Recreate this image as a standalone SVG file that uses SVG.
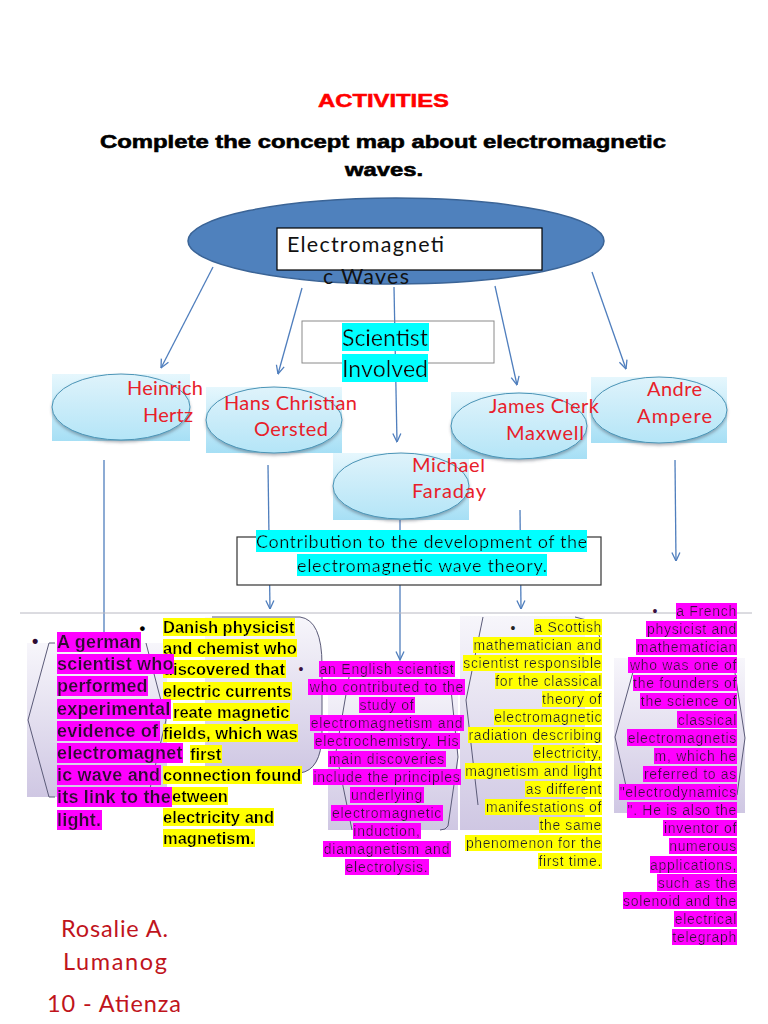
<svg xmlns="http://www.w3.org/2000/svg" width="768" height="1024" viewBox="0 0 768 1024">
<defs>
<style>
.cal{font-family:Lato,"Open Sans","Noto Sans",sans-serif}
.ar{font-family:"Liberation Sans",Arial,sans-serif}
.nm{font-size:20px;fill:#e8202a}
.conn{stroke:#4f7ebd;stroke-width:1.3;fill:none}
.arr{marker-end:url(#ah)}
.nrect{fill:url(#gBlue)}
.nell{fill:url(#gBlue2);stroke:#4a94b6;stroke-width:1;filter:url(#sh)}
.lav{fill:url(#gLav)}
.brace{fill:none;stroke:#5b5b78;stroke-width:1}
.hz text{font-size:18px;font-weight:bold;fill:#2e0a33;letter-spacing:0.2px;filter:url(#hlP)}
.oe text{font-size:16.5px;font-weight:bold;fill:#000;filter:url(#hlY)}
.fa text{font-size:14px;fill:#3a1040;letter-spacing:0.75px;text-anchor:middle;filter:url(#hlP)}
.mx text{font-size:14px;fill:#222;letter-spacing:0.6px;text-anchor:end;filter:url(#hlY)}
.am text{font-size:14px;fill:#3a1040;letter-spacing:0.7px;text-anchor:end;filter:url(#hlP)}
.bul{font-size:14px;fill:#000;filter:none !important}
.cy{filter:url(#hlC)}
</style>
<marker id="ah" viewBox="0 0 10 10" refX="9.5" refY="5" markerWidth="10" markerHeight="10" orient="auto" markerUnits="userSpaceOnUse">
<path d="M1,1 L9.5,5 L1,9" fill="none" stroke="#4f7ebd" stroke-width="1.3"/>
</marker>
<linearGradient id="gBlue" x1="0" y1="0" x2="0" y2="1"><stop offset="0" stop-color="#e6f7fd"/><stop offset="1" stop-color="#a6dff5"/></linearGradient>
<linearGradient id="gBlue2" x1="0" y1="0" x2="0" y2="1"><stop offset="0" stop-color="#dff3fb"/><stop offset="1" stop-color="#b4e5f7"/></linearGradient>
<linearGradient id="gLav" x1="0" y1="0" x2="0" y2="1"><stop offset="0" stop-color="#f7f6fb"/><stop offset="1" stop-color="#cfc7e3"/></linearGradient>
<filter id="hlP" x="0" y="0" width="1" height="1"><feFlood flood-color="#ff00ff" result="bg"/><feMerge><feMergeNode in="bg"/><feMergeNode in="SourceGraphic"/></feMerge></filter>
<filter id="hlY" x="0" y="0" width="1" height="1"><feFlood flood-color="#ffff00" result="bg"/><feMerge><feMergeNode in="bg"/><feMergeNode in="SourceGraphic"/></feMerge></filter>
<filter id="hlC" x="0" y="0" width="1" height="1"><feFlood flood-color="#00ffff" result="bg"/><feMerge><feMergeNode in="bg"/><feMergeNode in="SourceGraphic"/></feMerge></filter>
<filter id="sh" x="-10%" y="-10%" width="120%" height="135%"><feDropShadow dx="0" dy="2" stdDeviation="1.5" flood-color="#4a5560" flood-opacity="0.45"/></filter>
</defs>
<rect width="768" height="1024" fill="#fff"/>

<g id="title" class="ar">
<text x="318" y="107" font-size="18" font-weight="bold" fill="#ff0000" stroke="#ff0000" stroke-width="0.5" textLength="131" lengthAdjust="spacingAndGlyphs">ACTIVITIES</text>
<text x="100" y="148" font-size="19" font-weight="bold" fill="#000" stroke="#000" stroke-width="0.6" textLength="566" lengthAdjust="spacingAndGlyphs">Complete the concept map about electromagnetic</text>
<text x="345" y="176" font-size="19" font-weight="bold" fill="#000" stroke="#000" stroke-width="0.6" textLength="78" lengthAdjust="spacingAndGlyphs">waves.</text>
</g>

<g id="node-em-waves">
<ellipse cx="396" cy="241" rx="208" ry="43" fill="#4f81bd" stroke="#3b6496" stroke-width="1.5"/>
<rect x="277" y="228" width="265" height="42" fill="#fff" stroke="#000" stroke-width="1.2"/>
<text class="cal" x="287" y="252" font-size="21.5" fill="#111" textLength="157">Electromagneti</text>
<text class="cal" x="323" y="284" font-size="21.5" fill="#111" textLength="86">c Waves</text>
</g>

<g id="connectors">
<path class="conn arr" d="M213,267 L161,368"/>
<path class="conn arr" d="M302,288 L278,374"/>
<path class="conn arr" d="M394,287 L397,442"/>
<path class="conn arr" d="M495,286 L517,385"/>
<path class="conn arr" d="M592,272 L626,369"/>
<path class="conn" d="M104,460 L104,632"/>
<path class="conn arr" d="M268,465 L270,609"/>
<path class="conn arr" d="M400,520 L400,660"/>
<path class="conn arr" d="M520,510 L521,609"/>
<path class="conn arr" d="M675,460 L676,561"/>
</g>

<g id="node-scientists">
<rect x="302" y="321" width="192" height="42" fill="none" stroke="#8a8a8a" stroke-width="1"/>
<text class="cal cy" x="342" y="346" font-size="23" fill="#111" textLength="86">Scientist</text>
<text class="cal cy" x="342" y="377" font-size="23" fill="#111" textLength="86">Involved</text>
</g>

<g id="node-hertz">
<rect class="nrect" x="52" y="374" width="138" height="67"/>
<ellipse class="nell" cx="121" cy="407" rx="69" ry="33"/>
<text class="cal nm" x="127" y="395" textLength="76">Heinrich</text>
<text class="cal nm" x="143" y="422" textLength="50">Hertz</text>
</g>

<g id="node-oersted">
<rect class="nrect" x="206" y="387" width="136" height="66"/>
<ellipse class="nell" cx="274" cy="420" rx="68" ry="33"/>
<text class="cal nm" x="224" y="410" textLength="133">Hans Christian</text>
<text class="cal nm" x="254" y="436" textLength="74">Oersted</text>
</g>

<g id="node-faraday">
<rect class="nrect" x="333" y="453" width="136" height="67"/>
<ellipse class="nell" cx="401" cy="486" rx="68" ry="33"/>
<text class="cal nm" x="412" y="472" textLength="73">Michael</text>
<text class="cal nm" x="412" y="498" textLength="74">Faraday</text>
</g>

<g id="node-ampere">
<rect class="nrect" x="591" y="377" width="136" height="66"/>
<ellipse class="nell" cx="659" cy="410" rx="68" ry="33"/>
<text class="cal nm" x="647" y="396" textLength="55">Andre</text>
<text class="cal nm" x="637" y="423" textLength="75">Ampere</text>
</g>

<g id="node-maxwell">
<rect class="nrect" x="451" y="392" width="136" height="67"/>
<ellipse class="nell" cx="519" cy="426" rx="68" ry="33"/>
<text class="cal nm" x="489" y="413" textLength="110">James Clerk</text>
<text class="cal nm" x="506" y="440" textLength="78">Maxwell</text>
</g>

<g id="node-contribution">
<rect x="237" y="537" width="364" height="48" fill="#fff" stroke="#333" stroke-width="1.2"/>
<text class="cal cy" x="256" y="548" font-size="18" fill="#111" textLength="331">Contribution to the development of the</text>
<text class="cal cy" x="297" y="572" font-size="18" fill="#111" textLength="250">electromagnetic wave theory.</text>
</g>

<line id="separator" x1="20" y1="613" x2="752" y2="613" stroke="#b8b8c2" stroke-width="1"/>

<g id="box-shapes">
<rect class="lav" x="27" y="643" width="140" height="154"/>
<path class="brace" d="M55,643 L49,643 L28,720 L49,797 L55,797 M146,643 L166,720 L148,797"/>
<path class="lav" d="M205,617 L300,617 Q322,620 322,665 L322,735 Q322,770 300,773 L205,773 Z"/>
<path class="brace" d="M212,617 L300,617 Q322,620 322,665 L322,735 Q321,770 300,773"/>
<rect class="lav" x="328" y="677" width="130" height="153"/>
<path class="brace" d="M349,677 L336,752 L352,830 M450,680 L458,757 L448,826 Q446,830 440,830"/>
<rect class="lav" x="460" y="616" width="125" height="214"/>
<path class="brace" d="M483,617 L466,700 L478,805 M575,617 Q598,620 601,642"/>
<rect class="lav" x="614" y="658" width="131" height="155"/>
<path class="brace" d="M633,672 L615,737 L628,795 M735,673 L745,738 L737,795"/>
</g>

<g id="desc-oersted" class="ar oe">
<text class="bul" x="139.5" y="634">•</text>
<text x="163" y="633">Danish physicist</text>
<text x="163" y="654">and chemist who</text>
<text x="163" y="675">discovered that</text>
<text x="163" y="697">electric currents</text>
<text x="173" y="718">reate magnetic</text>
<text x="163" y="739">fields, which was</text>
<text x="190" y="760">first</text>
<text x="163" y="781">connection found</text>
<text x="172" y="802">etween</text>
<text x="163" y="823">electricity and</text>
<text x="163" y="844">magnetism.</text>
</g>

<g id="desc-hertz" class="ar hz">
<text class="bul" x="32" y="647">•</text>
<text x="57" y="648">A german</text>
<text x="57" y="670">scientist who</text>
<text x="57" y="692">performed</text>
<text x="57" y="715">experimental</text>
<text x="57" y="737">evidence of</text>
<text x="57" y="759">electromagnet</text>
<text x="57" y="781">ic wave and</text>
<text x="57" y="803">its link to the</text>
<text x="57" y="826">light.</text>
</g>

<g id="desc-faraday" class="ar fa">
<text class="bul" x="298.5" y="674" style="text-anchor:start">•</text>
<text x="387" y="674">an English scientist</text>
<text x="387" y="692">who contributed to the</text>
<text x="387" y="710">study of</text>
<text x="387" y="728">electromagnetism and</text>
<text x="387" y="746">electrochemistry. His</text>
<text x="387" y="764">main discoveries</text>
<text x="387" y="782">include the principles</text>
<text x="387" y="800">underlying</text>
<text x="387" y="818">electromagnetic</text>
<text x="387" y="836">induction,</text>
<text x="387" y="854">diamagnetism and</text>
<text x="387" y="872">electrolysis.</text>
</g>

<g id="desc-maxwell" class="ar mx">
<text class="bul" x="510.5" y="633" style="text-anchor:start">•</text>
<text x="602" y="632">a Scottish</text>
<text x="602" y="650">mathematician and</text>
<text x="602" y="668">scientist responsible</text>
<text x="602" y="686">for the classical</text>
<text x="602" y="704">theory of</text>
<text x="602" y="722">electromagnetic</text>
<text x="602" y="740">radiation describing</text>
<text x="602" y="758">electricity,</text>
<text x="602" y="776">magnetism and light</text>
<text x="602" y="794">as different</text>
<text x="602" y="812">manifestations of</text>
<text x="602" y="830">the same</text>
<text x="602" y="848">phenomenon for the</text>
<text x="602" y="866">first time.</text>
</g>

<g id="desc-ampere" class="ar am">
<text class="bul" x="652.5" y="616" style="text-anchor:start">•</text>
<text x="737" y="616">a French</text>
<text x="737" y="634">physicist and</text>
<text x="737" y="652">mathematician</text>
<text x="737" y="670">who was one of</text>
<text x="737" y="688">the founders of</text>
<text x="737" y="706">the science of</text>
<text x="737" y="724.5">classical</text>
<text x="737" y="742.5">electromagnetis</text>
<text x="737" y="761">m, which he</text>
<text x="737" y="779">referred to as</text>
<text x="737" y="797">"electrodynamics</text>
<text x="737" y="815">". He is also the</text>
<text x="737" y="833">inventor of</text>
<text x="737" y="851">numerous</text>
<text x="737" y="869.5">applications,</text>
<text x="737" y="887.5">such as the</text>
<text x="737" y="905.5">solenoid and the</text>
<text x="737" y="924">electrical</text>
<text x="737" y="942">telegraph</text>
</g>

<g id="author" class="cal" fill="#c0141c" font-size="23.5">
<text x="61" y="937" textLength="107">Rosalie A.</text>
<text x="63" y="970" textLength="104">Lumanog</text>
<text x="47" y="1012" textLength="134">10 - Atienza</text>
</g>
</svg>
